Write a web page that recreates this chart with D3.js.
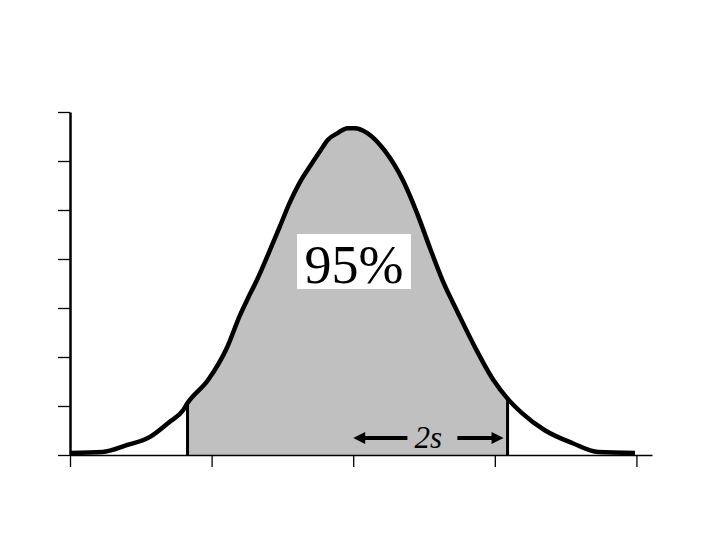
<!DOCTYPE html>
<html>
<head>
<meta charset="utf-8">
<style>
  body { margin: 0; background: #fff; }
  svg { display: block; }
</style>
<script src="https://cdn.jsdelivr.net/npm/d3@7"></script>
</head>
<body>
<svg id="chart" width="720" height="540"></svg>
<script>
// curve (x in axis units, y in axis units)
const curveX = [0, 0.23, 0.40, 0.565, 0.70, 0.80, 0.83, 0.975, 1.11, 1.20, 1.25, 1.32, 1.40, 1.48, 1.55, 1.62, 1.71, 1.77, 1.82, 1.89, 1.96,
                2.01, 2.10, 2.22, 2.35, 2.45, 2.54, 2.63, 2.74, 2.86, 2.99, 3.09, 3.19, 3.35, 3.55, 3.73, 3.99];
const curveY = [0.04, 0.06, 0.20, 0.37, 0.67, 0.92, 1.06, 1.53, 2.20, 2.85, 3.16, 3.57, 4.10, 4.65, 5.14, 5.55, 5.96, 6.22, 6.43, 6.57, 6.67,
                6.67, 6.57, 6.22, 5.61, 4.94, 4.24, 3.57, 2.90, 2.20, 1.53, 1.15, 0.86, 0.51, 0.24, 0.06, 0.04];
const xTicks = [0, 1, 2, 3, 4];
const yTicks = [0, 1, 2, 3, 4, 5, 6, 7];
const shadeLo = 0.83, shadeHi = 3.09;
const meanX = 2.0;
const areaLabel = "95%";
const spanLabel = "2s";

const serif = "'Liberation Serif', 'Times New Roman', Times, serif";
const svg = d3.select("#chart");
const x = d3.scaleLinear().domain([0, 4.11]).range([70, 652]);
const y = d3.scaleLinear().domain([0, 7]).range([455, 112]);

const pts = curveX.map((v, i) => ({ x: v, y: curveY[i] }));

// shaded 95% region
svg.append("clipPath").attr("id", "mid")
  .append("rect")
  .attr("x", x(shadeLo)).attr("y", 0)
  .attr("width", x(shadeHi) - x(shadeLo)).attr("height", y(0));

const area = d3.area().x(d => x(d.x)).y0(y(0)).y1(d => y(d.y)).curve(d3.curveMonotoneX);
svg.append("path").datum(pts)
  .attr("d", area)
  .attr("fill", "#c0c0c0")
  .attr("clip-path", "url(#mid)");

// axes
const yAxis = d3.axisLeft(y).tickValues(yTicks).tickSize(12).tickSizeOuter(0).tickFormat("");
const gy = svg.append("g").attr("transform", `translate(${x(0)},0)`).call(yAxis);
gy.select(".domain").attr("stroke-width", 2.5);
gy.selectAll(".tick line").attr("stroke-width", 1.3);

const xAxis = d3.axisBottom(x).tickValues(xTicks).tickSize(12).tickSizeOuter(0).tickFormat("");
const gx = svg.append("g").attr("transform", `translate(0,${y(0)})`).call(xAxis);
gx.select(".domain").attr("stroke-width", 1.5);
gx.selectAll(".tick line").attr("stroke-width", 1.3);

// boundary lines
[shadeLo, shadeHi].forEach(b => {
  const i = curveX.indexOf(b);
  svg.append("line")
    .attr("x1", x(b)).attr("x2", x(b))
    .attr("y1", y(0)).attr("y2", y(curveY[i]))
    .attr("stroke", "#000").attr("stroke-width", 3);
});

// the curve
const line = d3.line().x(d => x(d.x)).y(d => y(d.y)).curve(d3.curveMonotoneX);
svg.append("path").datum(pts)
  .attr("d", line)
  .attr("fill", "none")
  .attr("stroke", "#000")
  .attr("stroke-width", 4.5)
  .attr("stroke-linejoin", "round");

// 95% label in white box
svg.append("rect")
  .attr("x", 297).attr("y", 234).attr("width", 114).attr("height", 55)
  .attr("fill", "#fff");
svg.append("text")
  .attr("x", 354).attr("y", 283)
  .attr("text-anchor", "middle")
  .attr("font-family", serif)
  .attr("font-size", 54)
  .text(areaLabel);

// 2s arrow
const ay = 438;
const xa = x(meanX), xb = x(shadeHi) - 4;
const cx = (xa + xb) / 2;
const head = 12, hw = 6;
svg.append("line").attr("x1", xa + head - 1).attr("x2", cx - 21).attr("y1", ay).attr("y2", ay)
  .attr("stroke", "#000").attr("stroke-width", 4);
svg.append("line").attr("x1", cx + 29).attr("x2", xb - head + 1).attr("y1", ay).attr("y2", ay)
  .attr("stroke", "#000").attr("stroke-width", 4);
svg.append("path")
  .attr("d", `M${xa},${ay} L${xa + head},${ay - hw} L${xa + head},${ay + hw} Z`)
  .attr("fill", "#000");
svg.append("path")
  .attr("d", `M${xb},${ay} L${xb - head},${ay - hw} L${xb - head},${ay + hw} Z`)
  .attr("fill", "#000");
svg.append("text")
  .attr("x", cx).attr("y", 448)
  .attr("text-anchor", "middle")
  .attr("font-family", serif)
  .attr("font-size", 31)
  .attr("font-style", "italic")
  .text(spanLabel);
</script>
</body>
</html>
